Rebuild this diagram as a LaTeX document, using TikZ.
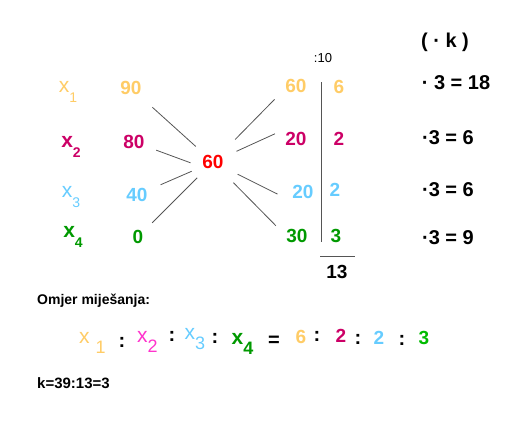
\documentclass[tikz,border=0pt]{standalone}
\usepackage{fontspec}
\setmainfont{Liberation Sans}
\usetikzlibrary{calc}

\definecolor{mixorange}{HTML}{FFCC66}
\definecolor{mixpink}{HTML}{CC0066}
\definecolor{mixmagenta}{HTML}{FF33CC}
\definecolor{mixblue}{HTML}{66CCFF}
\definecolor{mixgreen}{HTML}{009900}
\definecolor{mixlime}{HTML}{00BB00}
\definecolor{mixred}{HTML}{FF0000}
\definecolor{linegray}{HTML}{555555}

% x with a lowered index
\newcommand{\xsub}[2]{x\raisebox{-10pt}{\fontsize{#1}{#1}\selectfont #2}}

\begin{document}
\begin{tikzpicture}[
x=1pt, y=-1pt,
every node/.style={inner sep=0pt},
var/.style={font=\fontsize{21}{21}\selectfont},
varb/.style={font=\fontsize{21}{21}\selectfont\bfseries},
num/.style={font=\fontsize{19}{19}\selectfont\bfseries},
res/.style={font=\fontsize{20}{20}\selectfont\bfseries},
small/.style={font=\fontsize{13}{13}\selectfont},
note/.style={font=\fontsize{14}{14}\selectfont\bfseries, anchor=west},
mixline/.style={draw=linegray, line width=0.8pt},
barline/.style={draw=linegray, line width=0.8pt}
]
\useasboundingbox (0,0) rectangle (512,423);

% components and their contents
\node[var, text=mixorange] (x1) at (68,92) {\xsub{14}{1}};
\node[varb, text=mixpink] (x2) at (71,147) {\xsub{14}{2}};
\node[var, text=mixblue] (x3) at (71,197) {\xsub{14}{3}};
\node[varb, text=mixgreen] (x4) at (73,237) {\xsub{14}{4}};

\node[num, text=mixorange] (c90) at (131,88) {90};
\node[num, text=mixpink] (c80) at (134,142) {80};
\node[num, text=mixblue] (c40) at (137,195) {40};
\node[num, text=mixgreen] (c0) at (138,237) {0};

\node[num, text=mixred] (mix) at (213,162) {60};

% differences
\node[num, text=mixorange] (d60) at (296,86) {60};
\node[num, text=mixpink] (d20a) at (296,139) {20};
\node[num, text=mixblue] (d20b) at (303,192) {20};
\node[num, text=mixgreen] (d30) at (297,236) {30};

\draw[mixline] ($(c90)!0.26!(mix)$) -- ($(c90)!0.79!(mix)$);
\draw[mixline] ($(c80)!0.29!-6:(mix)$) -- ($(c80)!0.74!-6:(mix)$);
\draw[mixline] ($(c40)!0.31!(mix)$) -- ($(c40)!0.72!(mix)$);
\draw[mixline] ($(c0)!0.19!(mix)$) -- ($(c0)!0.79!(mix)$);

\draw[mixline] ($(mix)!0.28!3:(d60)$) -- ($(mix)!0.78!3:(d60)$);
\draw[mixline] ($(mix)!0.30!9:(d20a)$) -- ($(mix)!0.79!9:(d20a)$);
\draw[mixline] ($(mix)!0.29!-8:(d20b)$) -- ($(mix)!0.76!-8:(d20b)$);
\draw[mixline] ($(mix)!0.26!-4:(d30)$) -- ($(mix)!0.80!-4:(d30)$);

% divided by 10
\node[small] (div) at (323,58) {:10};
\coordinate (bartop) at (321,82);
\coordinate (barbot) at (321,242);
\draw[barline] (bartop) -- (barbot);

\node[num, text=mixorange] (p6) at (339,87) {6};
\node[num, text=mixpink] (p2a) at (339,139) {2};
\node[num, text=mixblue] (p2b) at (335,190) {2};
\node[num, text=mixgreen] (p3) at (336,236) {3};

\coordinate (sumleft) at (320,256);
\coordinate (sumright) at (355,256);
\draw[barline] (sumleft) -- (sumright);
\node[num] (sum) at (337,272) {13};

% times k
\node[res] (k) at (445,42) {( · k )};
\node[res] (k6) at (456,83) {· 3 = 18};
\node[res] (k2a) at (448,138) {·3 = 6};
\node[res] (k2b) at (448,190) {·3 = 6};
\node[res] (k3) at (448,238) {·3 = 9};

% ratio
\node[note] (omjer) at (37,301) {Omjer miješanja:};

\node[var, text=mixorange] (r1) at (92.5,343) {x\hspace{6pt}\raisebox{-10pt}{\fontsize{18}{18}\selectfont 1}};
\node[res] (s1) at (122,342) {:};
\node[var, text=mixmagenta] (r2) at (147.5,341.5) {\xsub{18}{2}};
\node[res] (s2) at (172,336) {:};
\node[var, text=mixblue] (r3) at (195,339) {\xsub{18}{3}};
\node[res] (s3) at (215,338) {:};
\node[varb, text=mixgreen] (r4) at (242.5,343.5) {\xsub{18}{4}};
\node[res] (eq) at (274,341) {=};
\node[num, text=mixorange] (q6) at (301,337) {6};
\node[res] (s4) at (317,336) {:};
\node[num, text=mixpink] (q2a) at (341,336) {2};
\node[res] (s5) at (358,339) {:};
\node[num, text=mixblue] (q2b) at (379,338) {2};
\node[res] (s6) at (402,340) {:};
\node[num, text=mixlime] (q3) at (424,338) {3};

\node[note, font=\fontsize{15}{15}\selectfont\bfseries] (kval) at (37,383) {k=39:13=3};

\end{tikzpicture}
\end{document}
